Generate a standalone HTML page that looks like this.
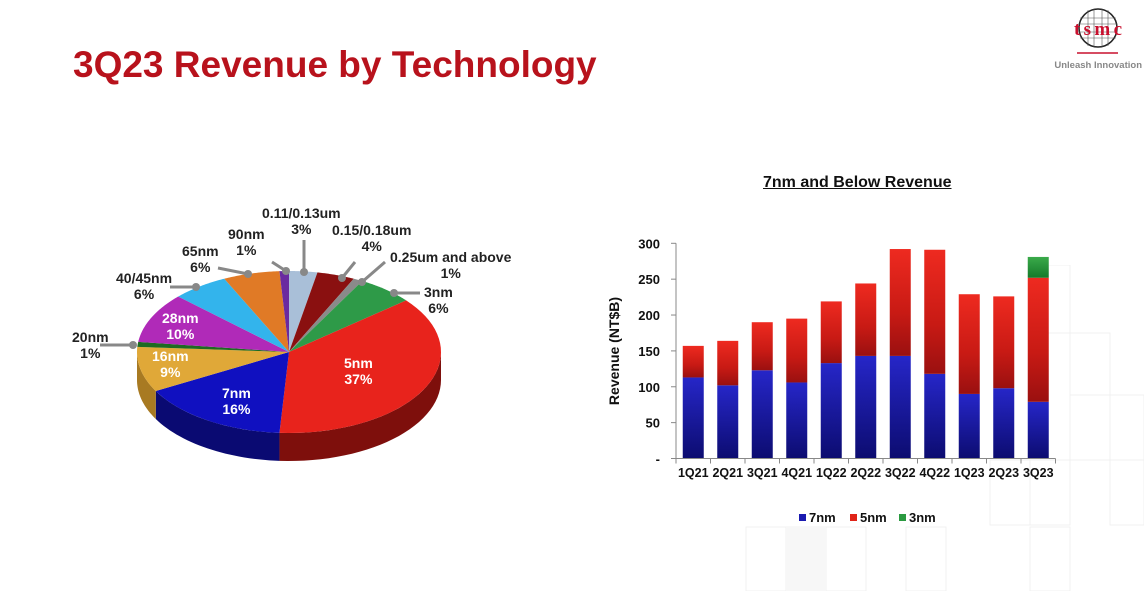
<!DOCTYPE html>
<html><head><meta charset="utf-8"><style>
body{margin:0;width:1144px;height:591px;background:#fff;overflow:hidden;font-family:"Liberation Sans",Arial,sans-serif;position:relative}
.t{position:absolute;font-weight:bold;color:#222;font-size:14px;line-height:16px;text-align:center;white-space:nowrap}
</style></head><body>
<div style="position:absolute;left:73px;top:44px;font-size:37px;font-weight:bold;color:#b8121c;">3Q23 Revenue by Technology</div>
<svg style="position:absolute;left:1048px;top:4px" width="96" height="70">
<circle cx="50" cy="24" r="19" fill="#fff" stroke="#222" stroke-width="1.5"/>
<g stroke="#555" stroke-width="0.6"><line x1="32" y1="14" x2="68" y2="14"/><line x1="31" y1="20" x2="69" y2="20"/><line x1="31" y1="28" x2="69" y2="28"/><line x1="32" y1="34" x2="68" y2="34"/><line x1="40" y1="6" x2="40" y2="42"/><line x1="46" y1="5" x2="46" y2="43"/><line x1="54" y1="5" x2="54" y2="43"/><line x1="60" y1="6" x2="60" y2="42"/></g>
<text x="50" y="31" text-anchor="middle" font-family="Liberation Serif,serif" font-weight="bold" font-size="19" fill="#c8102e" textLength="48">tsmc</text>
<line x1="29" y1="49" x2="70" y2="49" stroke="#c8102e" stroke-width="1.5"/>
<text x="94" y="64" text-anchor="end" font-size="9.5" font-weight="bold" fill="#888">Unleash Innovation</text>
</svg>
<svg style="position:absolute;left:740px;top:265px" width="404" height="326">
<g fill="none" stroke="#f1f1f1"><rect x="6" y="262" width="40" height="64"/><rect x="46" y="262" width="40" height="64"/><rect x="86" y="262" width="40" height="64"/><rect x="166" y="262" width="40" height="64"/><rect x="250" y="195" width="40" height="65"/><rect x="290" y="195" width="40" height="65"/><rect x="330" y="130" width="40" height="65"/><rect x="370" y="130" width="34" height="65"/><rect x="290" y="262" width="40" height="64"/><rect x="330" y="68" width="40" height="62"/><rect x="290" y="0" width="40" height="68"/><rect x="370" y="195" width="34" height="65"/></g>
<rect x="46" y="262" width="40" height="64" fill="#f7f7f7"/>
</svg>

<svg id="pie" style="position:absolute;left:0;top:0" width="560" height="591"></svg>
<div class="t" style="left:262px;top:205px">0.11/0.13um<br>3%</div>
<div class="t" style="left:332px;top:222px">0.15/0.18um<br>4%</div>
<div class="t" style="left:390px;top:249px">0.25um and above<br>1%</div>
<div class="t" style="left:424px;top:284px">3nm<br>6%</div>
<div class="t" style="left:228px;top:226px">90nm<br>1%</div>
<div class="t" style="left:182px;top:243px">65nm<br>6%</div>
<div class="t" style="left:116px;top:270px">40/45nm<br>6%</div>
<div class="t" style="left:72px;top:329px">20nm<br>1%</div>
<div class="t" style="left:162px;top:310px;color:#fff">28nm<br>10%</div>
<div class="t" style="left:152px;top:348px;color:#fff">16nm<br>9%</div>
<div class="t" style="left:222px;top:385px;color:#fff">7nm<br>16%</div>
<div class="t" style="left:344px;top:355px;color:#fff">5nm<br>37%</div>

<div style="position:absolute;left:763px;top:174px;font-size:16px;font-weight:bold;color:#111;text-decoration:underline;">7nm and Below Revenue</div>
<svg id="bars" style="position:absolute;left:0;top:0" width="1144" height="591"></svg>

<script>
const slices=["0.11/0.13um","0.15/0.18um","0.25um and above","3nm","5nm","7nm","16nm","20nm","28nm","40/45nm","65nm","90nm"];
const shares=[3,4,1,6,37,16,9,1,10,6,6,1];
const topCol=["#a9bfd8","#8a1010","#8a8a8a","#2e9a48","#e8231c","#1010c0","#e0a838","#1d6a22","#b02ab8","#33b4ec","#e07a26","#6a2aa0"];
const sideCol=["#7f93aa","#5a0808","#666","#1d6a30","#7e0f0c","#0a0a72","#a87a22","#124a16","#701a78","#2080b0","#9a5010","#451a70"];
const cx=289,cy=352,rx=152,ry=81,dep=28,NS="http://www.w3.org/2000/svg";
const pie=document.getElementById('pie');
function pt(a,dy){return [cx+rx*Math.sin(a),cy-ry*Math.cos(a)+(dy||0)];}
let cum=0;const angs=[];
shares.forEach(s=>{const a0=cum/100*2*Math.PI;cum+=s;angs.push([a0,cum/100*2*Math.PI]);});
angs.forEach((a,i)=>{let s=Math.max(a[0],Math.PI/2),e=Math.min(a[1],1.5*Math.PI);if(e<=s)return;
let d="";const N=30;for(let k=0;k<=N;k++){const p=pt(s+(e-s)*k/N);d+=(k?"L":"M")+p[0]+","+p[1];}
for(let k=N;k>=0;k--){const p=pt(s+(e-s)*k/N,dep);d+="L"+p[0]+","+p[1];}
const el=document.createElementNS(NS,'path');el.setAttribute('d',d+"Z");el.setAttribute('fill',sideCol[i]);


pie.appendChild(el);});
angs.forEach((a,i)=>{let d="M"+cx+","+cy;const N=40;for(let k=0;k<=N;k++){const p=pt(a[0]+(a[1]-a[0])*k/N);d+="L"+p[0]+","+p[1];}
const el=document.createElementNS(NS,'path');el.setAttribute('d',d+"Z");el.setAttribute('fill',topCol[i]);


pie.appendChild(el);});
const leaders=[[[304,272],[304,240]],[[342,278],[355,262]],[[362,282],[385,262]],[[394,293],[420,293]],[[286,271],[272,262]],[[248,274],[218,268]],[[196,287],[170,287]],[[133,345],[100,345]]];
leaders.forEach((l,i)=>{const ln=document.createElementNS(NS,'line');ln.setAttribute('x1',l[0][0]);ln.setAttribute('y1',l[0][1]);ln.setAttribute('x2',l[1][0]);ln.setAttribute('y2',l[1][1]);ln.setAttribute('stroke','#888');ln.setAttribute('stroke-width','3');


pie.appendChild(ln);const c=document.createElementNS(NS,'circle');c.setAttribute('cx',l[0][0]);c.setAttribute('cy',l[0][1]);c.setAttribute('r','4');c.setAttribute('fill','#888');


pie.appendChild(c);});
</script>
<script>
const quarters=["1Q21","2Q21","3Q21","4Q21","1Q22","2Q22","3Q22","4Q22","1Q23","2Q23","3Q23"];
const v7=[113,102,123,106,133,143,143,118,90,98,79];
const v5=[44,62,67,89,86,101,149,173,139,128,173];
const v3=[0,0,0,0,0,0,0,0,0,0,29];
const yTicks=[0,50,100,150,200,250,300];
const svg=document.getElementById('bars'),S="http://www.w3.org/2000/svg";
const y0=458.5,y300=243.3,xL=676,step=34.5,bw=21;
const Y=v=>y0-(v/300)*(y0-y300),X=i=>xL+step*(i+0.5);
svg.innerHTML='<defs><linearGradient id="gb" x1="0" y1="0" x2="0" y2="1"><stop offset="0" stop-color="#2626c8"/><stop offset="1" stop-color="#0c0c70"/></linearGradient><linearGradient id="gr" x1="0" y1="0" x2="0" y2="1"><stop offset="0" stop-color="#ee2a20"/><stop offset="0.6" stop-color="#c81a14"/><stop offset="1" stop-color="#9a1010"/></linearGradient><linearGradient id="gg" x1="0" y1="0" x2="0" y2="1"><stop offset="0" stop-color="#3aaa4a"/><stop offset="1" stop-color="#157a2a"/></linearGradient></defs>';
function mk(tag,at,name,inter){const e=document.createElementNS(S,tag);for(const k in at)e.setAttribute(k,at[k]);


svg.appendChild(e);return e;}
yTicks.forEach(t=>{const tx=mk('text',{x:660,y:Y(t)+5,'text-anchor':'end','font-size':13,'font-weight':'bold',fill:'#111'},'y-tick-label','false');tx.textContent=t===0?'-':t;
mk('line',{x1:671,x2:676,y1:Y(t),y2:Y(t),stroke:'#888'},'y-tick','false');});
quarters.forEach((q,i)=>{const x=X(i)-bw/2;
mk('rect',{x:x,y:Y(v7[i]),width:bw,height:Y(0)-Y(v7[i]),fill:'url(#gb)'},'bar-7nm-'+q,'true');
mk('rect',{x:x,y:Y(v7[i]+v5[i]),width:bw,height:Y(v7[i])-Y(v7[i]+v5[i]),fill:'url(#gr)'},'bar-5nm-'+q,'true');
if(v3[i]>0)mk('rect',{x:x,y:Y(v7[i]+v5[i]+v3[i]),width:bw,height:Y(v7[i]+v5[i])-Y(v7[i]+v5[i]+v3[i]),fill:'url(#gg)'},'bar-3nm-'+q,'true');
const tx=mk('text',{x:X(i),y:477,'text-anchor':'middle','font-size':12.5,'font-weight':'bold',fill:'#111'},'x-tick-label','false');tx.textContent=q;
mk('line',{x1:xL+step*i,x2:xL+step*i,y1:y0,y2:y0+5,stroke:'#888'},'x-tick','false');});
mk('line',{x1:xL+step*11,x2:xL+step*11,y1:y0,y2:y0+5,stroke:'#888'},'x-tick','false');
mk('line',{x1:xL,x2:xL,y1:y300,y2:y0,stroke:'#888'},'y-axis','false');
mk('line',{x1:xL,x2:xL+step*11,y1:y0,y2:y0,stroke:'#888'},'x-axis','false');
const yt=mk('text',{x:0,y:0,transform:'translate(619,351) rotate(-90)','text-anchor':'middle','font-size':14,'font-weight':'bold',fill:'#111'},'y-axis-title','false');yt.textContent='Revenue (NT$B)';
[["7nm","#1a1ab0",799],["5nm","#e02418",850],["3nm","#2a9a40",899]].forEach(l=>{mk('rect',{x:l[2],y:514,width:7,height:7,fill:l[1]},'legend-swatch-'+l[0],'false');
const t=mk('text',{x:l[2]+10,y:522,'font-size':13,'font-weight':'bold',fill:'#111'},'legend-entry-'+l[0],'true');t.textContent=l[0];});
</script>
</body></html>
